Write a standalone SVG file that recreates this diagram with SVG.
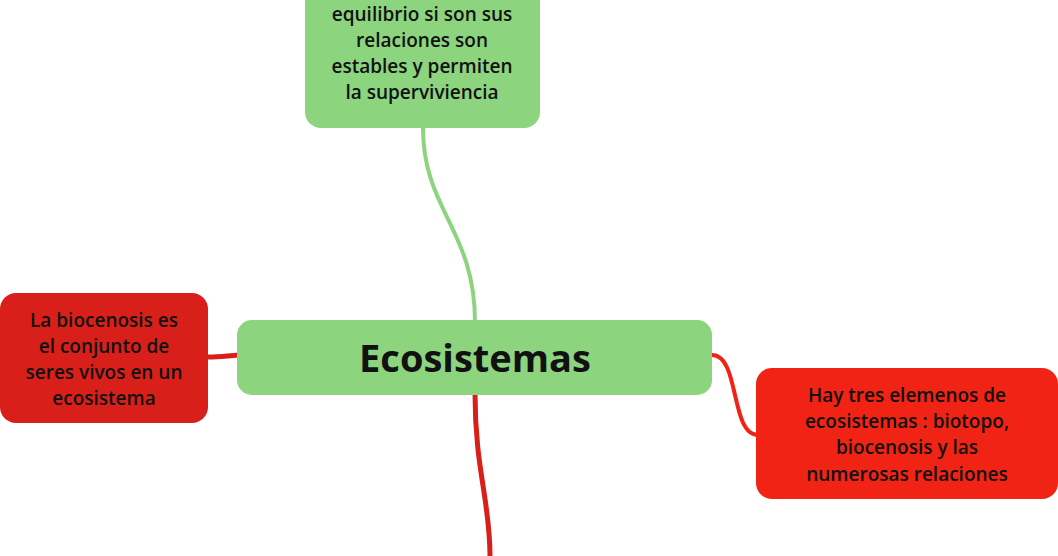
<svg xmlns="http://www.w3.org/2000/svg" width="1058" height="556" viewBox="0 0 1058 556">
<style>
text{font-family:"Open Sans","Noto Sans",sans-serif;font-weight:600;font-size:19px;fill:#111;text-anchor:middle}
.c{fill:none;stroke-linecap:round}
</style>
<rect width="1058" height="556" fill="#fff"/>
<g id="connectors">
<path class="c" d="M423,128 C423,210 475,230 475,322" stroke="#8cd47e" stroke-width="4"/>
<path class="c" d="M475,393 C475,470 490,500 490,556" stroke="#d91f1a" stroke-width="5"/>
<path class="c" d="M239,355 C225,356 220,357 208,357" stroke="#d91f1a" stroke-width="5"/>
<path class="c" d="M712,355 C740,355 730,435 758,435" stroke="#f02314" stroke-width="4"/>
</g>
<g id="center">
<rect x="237" y="320" width="475" height="75" rx="15" fill="#8cd47e"/>
<text x="475" y="372" style="font-size:38px;font-weight:700">Ecosistemas</text>
</g>
<g id="top">
<rect x="305" y="-20" width="235" height="148" rx="16" fill="#8cd47e"/>
<text x="422" y="21">equilibrio si son sus</text>
<text x="422" y="47">relaciones son</text>
<text x="422" y="73">estables y permiten</text>
<text x="422" y="99">la superviviencia</text>
</g>
<g id="left">
<rect x="0" y="293" width="208" height="130" rx="16" fill="#d91f1a"/>
<text x="104" y="327">La biocenosis es</text>
<text x="104" y="353">el conjunto de</text>
<text x="104" y="379">seres vivos en un</text>
<text x="104" y="405">ecosistema</text>
</g>
<g id="right">
<rect x="756" y="368" width="302" height="131" rx="16" fill="#f02314"/>
<text x="907" y="402">Hay tres elemenos de</text>
<text x="907" y="428">ecosistemas : biotopo,</text>
<text x="907" y="454">biocenosis y las</text>
<text x="907" y="481">numerosas relaciones</text>
</g>
</svg>
